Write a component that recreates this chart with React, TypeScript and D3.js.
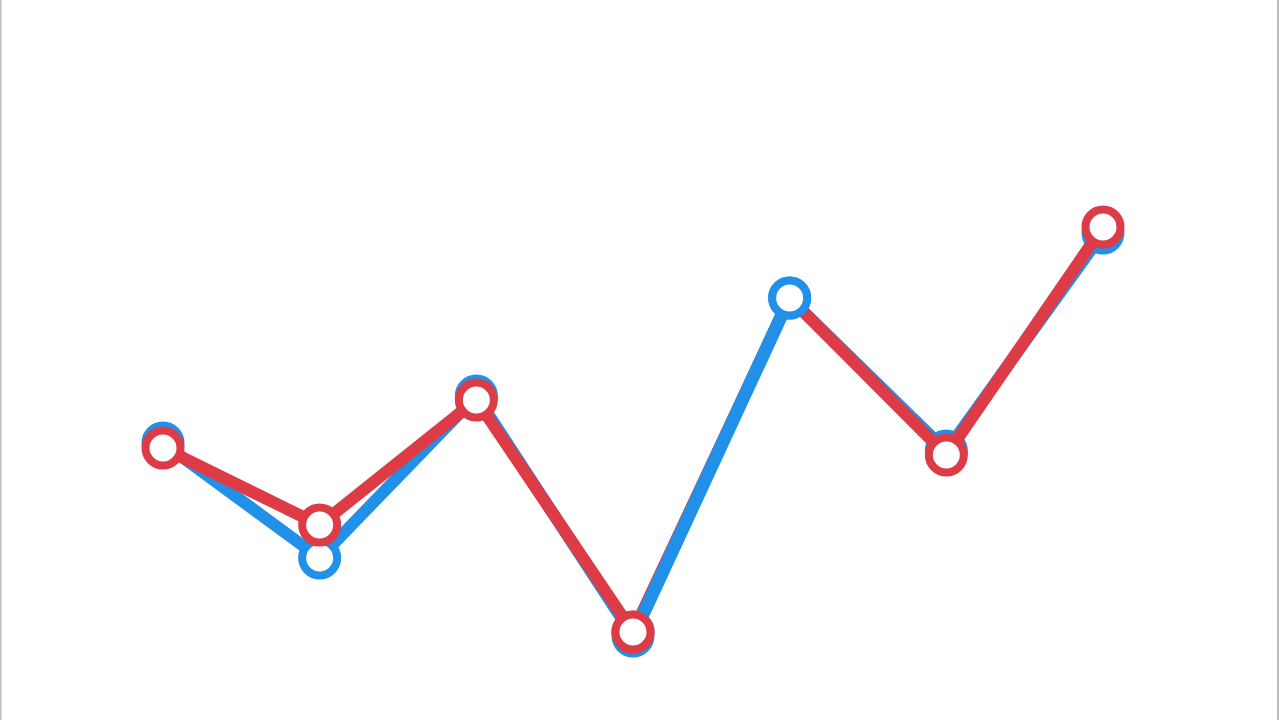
import * as d3 from 'd3';
import { useEffect, useRef } from 'react';

const labels = ['A', 'B', 'C', 'D', 'E', 'F', 'G'];
const blueValues = [47.4, 24.4, 56.8, 8.8, 76.4, 45.8, 89.4];
const redValues = [46.4, 31, 56, 9.6, 76.4, 45, 90.6];

const BLUE = '#2090e9';
const RED = '#dd3c47';

export default function App() {
  const w = 1280;
  const h = 720;
  const svgRef = useRef<SVGSVGElement>(null);

  useEffect(() => {
    if (svgRef.current == null) {
      return;
    }
    const svg = d3.select(svgRef.current).select('#change');
    svg.selectAll('*').remove();

    const xScale = d3
      .scalePoint<string>()
      .domain(labels)
      .range([163, 1103]);
    const yScale = d3.scaleLinear().domain([0, 100]).range([680, 180]);

    // frame edges
    svg.append('line').attr('x1', 0.5).attr('y1', 0).attr('x2', 0.5).attr('y2', h)
      .attr('stroke', '#bbb').attr('stroke-width', 2);
    svg.append('line').attr('x1', w - 2).attr('y1', 0).attr('x2', w - 2).attr('y2', h)
      .attr('stroke', '#bbb').attr('stroke-width', 2);

    const line = d3
      .line<number>()
      .x((_, i) => xScale(labels[i]) as number)
      .y((d) => yScale(d));

    const drawLine = (values: number[], color: string) => {
      svg
        .append('path')
        .attr('d', line(values))
        .attr('fill', 'none')
        .attr('stroke', color)
        .attr('stroke-width', 12)
        .attr('stroke-linejoin', 'round');
    };
    const drawDots = (values: number[], color: string, idx: number[]) => {
      svg
        .append('g')
        .selectAll('circle')
        .data(idx)
        .join('circle')
        .attr('cx', (i) => xScale(labels[i]) as number)
        .attr('cy', (i) => yScale(values[i]))
        .attr('r', 17.5)
        .attr('fill', 'white')
        .attr('stroke', color)
        .attr('stroke-width', 8);
    };

    const all = labels.map((_, i) => i);
    drawLine(blueValues, BLUE);
    drawDots(blueValues, BLUE, all);
    drawLine(redValues, RED);
    drawDots(redValues, RED, all.filter((i) => i !== 4));

    // blue segment D-E sits on top of red
    const seg = d3
      .line<number>()
      .x((_, i) => xScale(labels[i + 3]) as number)
      .y((d) => yScale(d));
    svg
      .append('path')
      .attr('d', seg(blueValues.slice(3, 5)))
      .attr('fill', 'none')
      .attr('stroke', BLUE)
      .attr('stroke-width', 13);
    drawDots(redValues, RED, [3]);
    drawDots(blueValues, BLUE, [4]);
  }, []);

  return (
    <svg
      ref={svgRef}
      width={w}
      height={h}
      style={{ position: 'fixed', left: 0, top: 0, background: 'white' }}
    >
      <g id='change'></g>
    </svg>
  );
}
